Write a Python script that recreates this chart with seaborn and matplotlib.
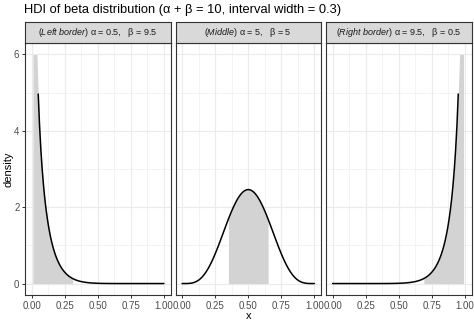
import math
import numpy as np
import pandas as pd
import matplotlib
matplotlib.use("Agg")
import matplotlib.pyplot as plt
import seaborn as sns

# Beta parameters for each facet (alpha + beta = 10)
panel_labels = ["Left border", "Middle", "Right border"]
alphas = [0.5, 5.0, 9.5]
betas = [9.5, 5.0, 0.5]
# HDI bounds (interval width 0.3)
hdi_lower = [0.01, 0.35, 0.69]
hdi_upper = [0.31, 0.65, 0.99]
y_max = 6.0
x_grid = np.round(np.arange(0, 101) / 100, 2)


def beta_pdf(x, a, b):
    norm = math.gamma(a) * math.gamma(b) / math.gamma(a + b)
    with np.errstate(divide="ignore", invalid="ignore"):
        d = x ** (a - 1) * (1 - x) ** (b - 1) / norm
    d[~np.isfinite(d)] = np.nan
    return d


frames = []
for lab, a, b in zip(panel_labels, alphas, betas):
    d = beta_pdf(x_grid, a, b)
    frames.append(pd.DataFrame({"panel": lab, "x": x_grid, "density": d}))
df = pd.concat(frames, ignore_index=True)

sns.set_theme(style="white")
plt.rcParams["font.family"] = ["Liberation Sans", "DejaVu Sans"]
plt.rcParams["mathtext.fontset"] = "custom"
plt.rcParams["mathtext.rm"] = "Liberation Sans"
plt.rcParams["mathtext.it"] = "Liberation Sans:italic"

W, H = 474, 333
fig = plt.figure(figsize=(W / 100, H / 100), dpi=100)

panel_left = [25, 175.5, 326]
panel_w = 145.5
panel_top, panel_bottom = 43, 295
strip_top = 22

border_col = "#333333"
grid_col = "#EBEBEB"

for i, (lab, a, b) in enumerate(zip(panel_labels, alphas, betas)):
    x0 = panel_left[i]
    ax = fig.add_axes([x0 / W, 1 - panel_bottom / H, panel_w / W,
                       (panel_bottom - panel_top) / H])
    sub = df[df["panel"] == lab].copy()
    # shaded HDI region, capped at the top of the scale
    mask = (sub["x"] >= hdi_lower[i] - 1e-9) & (sub["x"] <= hdi_upper[i] + 1e-9)
    shade = sub[mask]
    ax.fill_between(shade["x"], 0, np.minimum(shade["density"], y_max),
                    color="#D3D3D3", linewidth=0, zorder=2)
    # density curve, dropping values beyond the scale limit
    sub["density"] = sub["density"].where(sub["density"] <= y_max)
    sns.lineplot(data=sub, x="x", y="density", ax=ax, color="black",
                 linewidth=1.1, zorder=3, estimator=None)

    ax.set_xlim(-0.05, 1.05)
    ax.set_ylim(-0.3, 6.3)
    ax.set_xticks([0, 0.25, 0.5, 0.75, 1.0])
    ax.set_xticklabels(["0.00", "0.25", "0.50", "0.75", "1.00"])
    ax.set_xticks([0.125, 0.375, 0.625, 0.875], minor=True)
    ax.set_yticks([0, 2, 4, 6])
    ax.set_yticks([1, 3, 5], minor=True)
    ax.grid(True, which="major", color=grid_col, linewidth=0.8, zorder=0)
    ax.grid(True, which="minor", color=grid_col, linewidth=0.4, zorder=0)
    ax.set_axisbelow(True)
    for s in ax.spines.values():
        s.set_color(border_col)
        s.set_linewidth(0.8)
    ax.tick_params(axis="both", which="major", length=2.5, width=0.7,
                   color=border_col, labelsize=7.0, labelcolor="#4D4D4D",
                   pad=1.5, bottom=True, left=(i == 0))
    ax.tick_params(axis="both", which="minor", length=0)
    if i > 0:
        ax.set_yticklabels([])
    ax.set_xlabel("")
    ax.set_ylabel("")

    # facet strip
    sax = fig.add_axes([x0 / W, 1 - panel_top / H, panel_w / W,
                        (panel_top - strip_top) / H])
    sax.set_facecolor("#D9D9D9")
    sax.set_xticks([])
    sax.set_yticks([])
    for s in sax.spines.values():
        s.set_color(border_col)
        s.set_linewidth(0.8)
    name = lab.replace(" ", r"\ ")
    a_txt = f"{a:g}"
    b_txt = f"{b:g}"
    sax.text(0.5, 0.5,
             rf"$\mathit{{({name})}}$ α = {a_txt},   β = {b_txt}",
             ha="center", va="center", fontsize=6.5, color="#1A1A1A",
             transform=sax.transAxes)

fig.text(24 / W, 1 - 10 / H,
         "HDI of beta distribution (α + β = 10, interval width = 0.3)",
         ha="left", va="center", fontsize=9.3, color="black")
fig.text(9 / W, 1 - ((panel_top + panel_bottom) / 2) / H, "density",
         rotation=90, ha="center", va="center", fontsize=8.0, color="black")
fig.text((panel_left[1] + panel_w / 2) / W, 1 - 316 / H, "x",
         ha="center", va="center", fontsize=8.0, color="black")

fig.savefig("out.png", dpi=100, facecolor="white")
